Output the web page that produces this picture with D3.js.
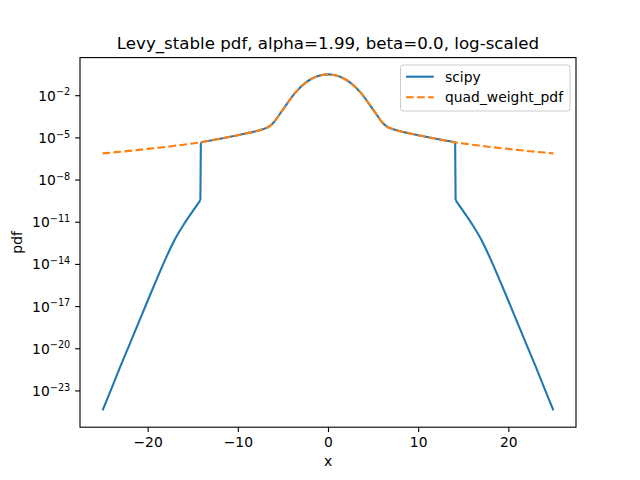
<!DOCTYPE html>
<html>
<head>
<meta charset="utf-8">
<script src="https://cdn.jsdelivr.net/npm/d3@7"></script>
<style>
  body { margin: 0; background: #fff; }
  text { font-family: "DejaVu Sans", sans-serif; fill: #000; }
</style>
</head>
<body>
<div id="chart"></div>
<script>
// quad_weight_pdf as log10(pdf)
const quadX = [-25, -24, -23, -22, -21, -20, -19, -18, -17, -16, -15, -14, -13, -12, -11, -10, -9, -8, -7,
  -6.5, -6, -5.5, -5, -4.5, -4, -3.5, -3, -2.5, -2, -1.5, -1, -0.5, 0,
  0.5, 1, 1.5, 2, 2.5, 3, 3.5, 4, 4.5, 5, 5.5, 6, 6.5,
  7, 8, 9, 10, 11, 12, 13, 14, 15, 16, 17, 18, 19, 20, 21, 22, 23, 24, 25];
const quadLog10 = [-6.14, -6.08, -6.02, -5.96, -5.89, -5.82, -5.75, -5.68, -5.60, -5.52, -5.43, -5.34, -5.22, -5.10, -4.98, -4.85, -4.71, -4.56, -4.37,
  -4.22, -3.92, -3.48, -3.03, -2.57, -2.12, -1.73, -1.40, -1.12, -0.90, -0.73, -0.62, -0.55, -0.52,
  -0.55, -0.62, -0.73, -0.90, -1.12, -1.40, -1.73, -2.12, -2.57, -3.03, -3.48, -3.92, -4.22,
  -4.37, -4.56, -4.71, -4.85, -4.98, -5.10, -5.22, -5.34, -5.43, -5.52, -5.60, -5.68, -5.75, -5.82, -5.89, -5.96, -6.02, -6.08, -6.14];

// scipy: same as above in the middle, breaks off at |x| ~ 14.1
const scipyX = [-25, -24, -23, -22, -21, -20, -19, -18, -17, -16, -15, -14.15, -14.1,
  -14, -13, -12, -11, -10, -9, -8, -7,
  -6.5, -6, -5.5, -5, -4.5, -4, -3.5, -3, -2.5, -2, -1.5, -1, -0.5, 0,
  0.5, 1, 1.5, 2, 2.5, 3, 3.5, 4, 4.5, 5, 5.5, 6, 6.5,
  7, 8, 9, 10, 11, 12, 13, 14,
  14.1, 14.15, 15, 16, 17, 18, 19, 20, 21, 22, 23, 24, 25];
const scipyLog10 = [-24.42, -22.85, -21.25, -19.72, -18.17, -16.62, -15.10, -13.62, -12.28, -11.20, -10.25, -9.46, -5.36,
  -5.34, -5.22, -5.10, -4.98, -4.85, -4.71, -4.56, -4.37,
  -4.22, -3.92, -3.48, -3.03, -2.57, -2.12, -1.73, -1.40, -1.12, -0.90, -0.73, -0.62, -0.55, -0.52,
  -0.55, -0.62, -0.73, -0.90, -1.12, -1.40, -1.73, -2.12, -2.57, -3.03, -3.48, -3.92, -4.22,
  -4.37, -4.56, -4.71, -4.85, -4.98, -5.10, -5.22, -5.34,
  -5.36, -9.46, -10.25, -11.20, -12.28, -13.62, -15.10, -16.62, -18.17, -19.72, -21.25, -22.85, -24.42];

const xTicks = [-20, -10, 0, 10, 20];
const yTickExps = [-23, -20, -17, -14, -11, -8, -5, -2];

const seriesNames = ["scipy", "quad_weight_pdf"];
const seriesColors = ["#1f77b4", "#ff7f0e"];

// matplotlib default figure 6.4x4.8in at 100dpi, 1pt = 100/72 px
const pt = 100 / 72;
const W = 640, H = 480;
const margin = { top: 57.6, right: 64, bottom: 52.8, left: 80 };
const width = W - margin.left - margin.right;
const height = H - margin.top - margin.bottom;

const svg = d3.select("#chart").append("svg")
  .attr("width", W).attr("height", H);

const g = svg.append("g")
  .attr("transform", `translate(${margin.left},${margin.top})`);

// 5% padding like matplotlib autoscale (in log space for y)
const xMin = d3.min(quadX.concat(scipyX)), xMax = d3.max(quadX.concat(scipyX));
const xPad = 0.05 * (xMax - xMin);
const x = d3.scaleLinear().domain([xMin - xPad, xMax + xPad]).range([0, width]);

const allLog = quadLog10.concat(scipyLog10);
const lMin = d3.min(allLog), lMax = d3.max(allLog);
const lPad = 0.05 * (lMax - lMin);
const y = d3.scaleLog()
  .domain([Math.pow(10, lMin - lPad), Math.pow(10, lMax + lPad)])
  .range([height, 0]);

const toPoints = (xs, ls) => xs.map((v, i) => ({ x: v, p: Math.pow(10, ls[i]) }));

const smooth = d3.line()
  .curve(d3.curveMonotoneX)
  .x(d => x(d.x))
  .y(d => y(d.p));

const straight = d3.line()
  .x(d => x(d.x))
  .y(d => y(d.p));

// scipy: smooth pieces joined by the straight jumps at +-14.1
const scipyPts = toPoints(scipyX, scipyLog10);
const n = scipyPts.length;
const cut = [0, 11, 12, n - 13, n - 12, n - 1];
const scipyG = g.append("g")
  .attr("fill", "none")
  .attr("stroke", seriesColors[0])
  .attr("stroke-width", 1.5 * pt)
  .attr("stroke-linejoin", "round");
for (let k = 0; k < cut.length - 1; k++) {
  const piece = scipyPts.slice(cut[k], cut[k + 1] + 1);
  scipyG.append("path").attr("d", (k % 2 === 0 ? smooth : straight)(piece));
}

g.append("path")
  .datum(toPoints(quadX, quadLog10))
  .attr("fill", "none")
  .attr("stroke", seriesColors[1])
  .attr("stroke-width", 1.5 * pt)
  .attr("stroke-dasharray", `${3.7 * 1.5 * pt},${1.6 * 1.5 * pt}`)
  .attr("d", smooth);

// axes
const tickLen = 3.5 * pt, tickPad = 3.5 * pt;
const fs = 10 * pt;

const xAxis = g.append("g")
  .attr("transform", `translate(0,${height})`)
  .call(d3.axisBottom(x).tickValues(xTicks).tickSize(tickLen).tickPadding(tickPad)
    .tickFormat(d => d < 0 ? "\u2212" + Math.abs(d) : d));
xAxis.select(".domain").remove();
xAxis.selectAll("line").attr("stroke", "#000").attr("stroke-width", 0.8 * pt);
xAxis.selectAll("text").style("font-family", "DejaVu Sans").style("font-size", fs + "px");

const yAxis = g.append("g")
  .call(d3.axisLeft(y).tickValues(yTickExps.map(e => Math.pow(10, e)))
    .tickSize(tickLen).tickPadding(tickPad).tickFormat(""));
yAxis.select(".domain").remove();
yAxis.selectAll("line").attr("stroke", "#000").attr("stroke-width", 0.8 * pt);

// 10^n labels with superscripts
yAxis.selectAll(".tick").each(function (d, i) {
  const t = d3.select(this).select("text")
    .attr("x", -(tickLen + tickPad))
    .attr("dy", "0.36em")
    .attr("text-anchor", "end")
    .style("font-family", "DejaVu Sans")
    .style("font-size", fs + "px");
  t.append("tspan").text("10");
  t.append("tspan")
    .attr("dy", "-0.55em")
    .style("font-size", (fs * 0.7) + "px")
    .text("\u2212" + Math.abs(yTickExps[i]));
});

// frame
g.append("rect")
  .attr("width", width).attr("height", height)
  .attr("fill", "none")
  .attr("stroke", "#000")
  .attr("stroke-width", 0.8 * pt);

// title and labels
svg.append("text")
  .attr("x", margin.left + width / 2)
  .attr("y", margin.top - 6 * pt)
  .attr("text-anchor", "middle")
  .style("font-size", (12 * pt) + "px")
  .text("Levy_stable pdf, alpha=1.99, beta=0.0, log-scaled");

svg.append("text")
  .attr("x", margin.left + width / 2)
  .attr("y", 466)
  .attr("text-anchor", "middle")
  .style("font-size", fs + "px")
  .text("x");

svg.append("text")
  .attr("transform", `translate(22,${margin.top + height / 2}) rotate(-90)`)
  .attr("text-anchor", "middle")
  .style("font-size", fs + "px")
  .text("pdf");

// legend
const lg = svg.append("g").attr("transform", "translate(400.5,65)");
lg.append("rect")
  .attr("width", 169.5).attr("height", 46)
  .attr("rx", 2.5)
  .attr("fill", "#fff").attr("fill-opacity", 0.8)
  .attr("stroke", "#ccc").attr("stroke-width", 1);

seriesNames.forEach((name, i) => {
  const yy = 11.7 + i * 20.6;
  lg.append("line")
    .attr("x1", 5.5).attr("x2", 33.3)
    .attr("y1", yy).attr("y2", yy)
    .attr("stroke", seriesColors[i])
    .attr("stroke-width", 1.5 * pt)
    .attr("stroke-dasharray", i === 1 ? `${3.7 * 1.5 * pt},${1.6 * 1.5 * pt}` : null);
  lg.append("text")
    .attr("x", 44.5).attr("y", yy)
    .attr("dy", "0.36em")
    .style("font-size", fs + "px")
    .text(name);
});
</script>
</body>
</html>
